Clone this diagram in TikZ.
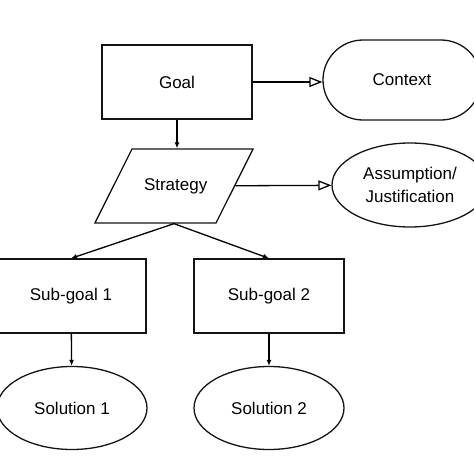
\documentclass[tikz,border=0pt]{standalone}
\usepackage{fontspec}
\setmainfont{Liberation Sans}
\usetikzlibrary{arrows.meta,shapes.geometric,shapes.misc}
\definecolor{L0}{RGB}{20,20,20}

\begin{document}
\begin{tikzpicture}[x=1pt,y=-1pt,line width=1.3pt,
        every node/.style={draw=L0,font=\fontsize{17}{23}\selectfont,inner sep=0pt},
        goalbox/.style={rectangle,minimum width=150pt,minimum height=74pt},
        stratbox/.style={trapezium,trapezium left angle=63.4,trapezium right angle=116.6,
            text width=60pt,align=center,text height=12pt,text depth=4pt,
            inner xsep=12pt,inner ysep=29pt},
        ctxbox/.style={rounded rectangle,minimum width=158pt,minimum height=80pt},
        ovalbox/.style={ellipse,minimum width=150pt,minimum height=83pt},
        solid arrow/.style={-{Latex[length=6pt,width=5pt]}},
        open arrow/.style={-{Triangle[open,length=13pt,width=10pt]}}]
                \useasboundingbox (0,0) rectangle (474,474);
                \clip (0,0) rectangle (474,474);

                \node[goalbox] (goal) at (177,82) {Goal};
                \node[ctxbox] (context) at (402,80) {Context};
                \node[stratbox] (strategy) at (174,186) {Strategy};
                \node[ovalbox,minimum width=156pt,minimum height=84pt,align=center]
                    (assumption) at (410,185) {Assumption/\\Justification};
                \node[goalbox] (sub1) at (71,296) {Sub-goal 1};
                \node[goalbox] (sub2) at (269,296) {Sub-goal 2};
                \node[ovalbox] (sol1) at (72,408) {Solution 1};
                \node[ovalbox] (sol2) at (269,408) {Solution 2};

                \draw[open arrow] (goal.east) -- (goal.east -| context.west);
                \draw[solid arrow] (goal.south) -- (goal.south |- strategy.north);
                \draw[open arrow] (strategy) -- (assumption);
                \draw[solid arrow] (strategy.south) -- (sub1.north);
                \draw[solid arrow] (strategy.south) -- (sub2.north);
                \draw[solid arrow] (sub1) -- (sol1);
                \draw[solid arrow] (sub2) -- (sol2);
            \end{tikzpicture}
\end{document}
